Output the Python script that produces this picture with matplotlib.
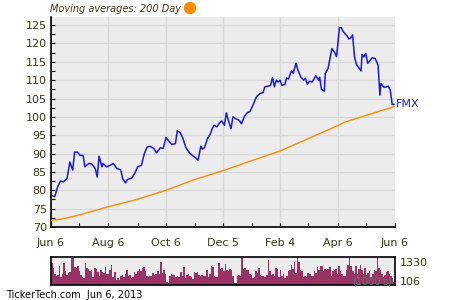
import matplotlib
matplotlib.use("Agg")
import matplotlib.pyplot as plt
from matplotlib.patches import Ellipse
import numpy as np

# price readings: days since Jun 6 2012 and close
days = [0, 4, 7, 10, 13, 17, 20, 23, 25, 28, 31, 34, 36, 40, 43, 47, 49, 51, 54, 55,
        59, 63, 66, 70, 74, 76, 79, 81, 86, 89, 92, 96, 99, 102, 105, 109, 112, 116, 119, 122,
        124, 128, 132, 134, 137, 140, 143, 147, 150, 154, 156, 159, 161, 163, 166, 169, 171, 173, 176, 179,
        181, 184, 186, 188, 191, 193, 196, 200, 202, 205, 208, 211, 215, 218, 222, 225, 227, 231, 233, 235,
        237, 239, 241, 243, 245, 248, 250, 252, 255, 257, 260, 262, 265, 268, 270, 272, 274, 277, 279, 281,
        284, 285, 287, 290, 291, 294, 298, 301, 303, 306, 308, 310, 314, 316, 318, 320, 322, 324, 327, 329,
        330, 332, 334, 336, 338, 341, 344, 347, 349, 350, 353, 355, 358, 360, 362, 364]
price = [78.6, 78.3, 80.9, 82.5, 82.3, 83.2, 87.7, 85.5, 90.4, 90.4, 89.5, 89.5, 86.4, 87.3, 87.2, 85.9, 83.6, 89.3, 86.4, 87.3,
         86.4, 86.8, 87.3, 85.9, 85.6, 83.2, 82.0, 82.9, 83.4, 84.7, 86.4, 86.8, 90.0, 91.8, 92.0, 91.4, 90.2, 91.6, 91.4, 94.4,
         93.7, 92.5, 92.7, 96.2, 95.7, 94.1, 91.7, 90.2, 89.5, 88.7, 88.2, 92.0, 91.2, 91.7, 94.1, 95.3, 96.8, 97.7, 97.3, 98.4,
         98.9, 97.7, 101.1, 99.2, 96.8, 100.0, 99.5, 99.0, 98.1, 100.0, 101.1, 101.4, 103.6, 105.5, 106.4, 106.6, 108.2, 108.4, 108.6, 110.7,
         108.2, 110.0, 109.5, 110.0, 108.6, 108.8, 110.6, 110.3, 112.5, 111.9, 114.6, 112.7, 110.9, 110.0, 110.5, 108.8, 109.7, 109.5, 110.3, 111.2,
         110.0, 110.8, 107.5, 107.0, 111.8, 113.2, 118.6, 117.5, 116.4, 124.3, 124.3, 123.2, 122.1, 121.2, 121.5, 122.3, 116.4, 114.3, 113.2, 112.5,
         117.0, 116.3, 117.3, 114.6, 115.2, 116.1, 115.9, 114.1, 105.9, 109.1, 108.1, 108.1, 108.4, 107.2, 103.4, 103.4]

ma_days = [0, 10, 29, 59, 91, 122, 151, 182, 211, 243, 275, 305, 312, 333, 362, 364]
ma200 = [71.8, 72.1, 73.2, 75.4, 77.5, 80.0, 82.8, 85.3, 87.9, 90.7, 94.3, 97.7, 98.6, 100.3, 102.6, 102.8]

tick_days = [0, 61, 122, 182, 243, 304, 365]
tick_labels = ["Jun 6", "Aug 6", "Oct 6", "Dec 5", "Feb 4", "Apr 6", "Jun 6"]
minor_days = [30, 92, 153, 213, 273, 334]

# volume in 1000's
volume = [1040, 810, 540, 410, 490, 890, 380, 540, 1040, 650, 490, 570, 600, 1280, 1280, 850, 810, 890, 650, 490,
          380, 330, 1040, 810, 760, 650, 730, 380, 810, 760, 600, 440, 700, 600, 570, 850, 540, 540, 730, 970,
          380, 600, 250, 330, 250, 440, 490, 380, 540, 700, 440, 490, 330, 380, 600, 540, 650, 760, 650, 810,
          850, 650, 440, 380, 410, 410, 570, 490, 540, 650, 540, 1120, 570, 700, 540,
          130, 106, 410, 540, 490, 490, 380, 410, 380, 600, 410, 850, 330, 490, 540, 440, 380, 290, 600, 570,
          600, 490, 440, 490, 440, 440, 700, 380, 540, 890, 850, 440, 380, 380, 1040, 760, 810, 650, 1010, 730,
          650, 760, 730, 410, 110, 110, 440, 490, 440, 1330, 760, 810, 700, 730, 540, 490, 330, 380, 650, 570,
          810, 490, 410, 410, 380, 490, 1200, 650, 490, 540, 410,
          810, 760, 380, 700, 410, 540, 330, 440, 650, 730, 970, 760, 1120, 570, 1330, 1120, 730, 650, 380, 440,
          380, 570, 540, 410, 440, 650, 570, 850, 700, 890, 920, 650, 760, 700, 760, 850, 440, 650, 730, 760,
          540, 920, 650, 540, 440, 440, 700, 970, 1330, 920, 650, 540, 890, 540, 760, 970, 700, 540, 810, 490,
          570, 650, 380, 540, 700, 650, 1330, 810, 730, 540, 380, 490, 600, 650, 540, 410, 330, 130]

text_col = "#3b3417"
bg = "#ececec"
grid_col = "#d9d9d9"

fig = plt.figure(figsize=(4.5, 3), dpi=100)
ax = fig.add_axes([51 / 450, 1 - 227 / 300, 344 / 450, 210 / 300])
ax.set_facecolor(bg)
ax.plot(ma_days, ma200, color="#ff8c00", lw=1.0, zorder=3)
ax.plot(days, price, color="#1a1ad6", lw=1.1, zorder=4)
ax.set_xlim(0, 365)
ax.set_ylim(70, 127.2)
ax.set_xticks(tick_days)
ax.set_xticklabels(tick_labels)
ax.set_xticks(minor_days, minor=True)
ax.set_yticks(np.arange(70, 126, 5))
ax.set_yticks(np.arange(72.5, 127, 5), minor=True)
ax.grid(True, which="major", color=grid_col, lw=1.0)
ax.set_axisbelow(True)
for s in ["top", "right"]:
    ax.spines[s].set_visible(False)
for s in ["left", "bottom"]:
    ax.spines[s].set_color("black")
    ax.spines[s].set_linewidth(1.2)
ax.tick_params(which="both", direction="in", length=3, width=0.8, colors="black",
               labelcolor=text_col, labelsize=8)
ax.tick_params(axis="x", pad=8)
ax.tick_params(axis="y", pad=3)

fig.text(396 / 450, 1 - 104 / 300, "FMX", color="#1a1ad6", fontsize=8, va="center", ha="left")
fig.text(50 / 450, 1 - 9 / 300, "Moving averages: 200 Day", style="italic", color=text_col,
         fontsize=7, va="center", ha="left")
fig.add_artist(Ellipse((190 / 450, 1 - 8 / 300), 11 / 450, 11 / 300, transform=fig.transFigure,
                       color="#ff8c00"))

vax = fig.add_axes([51 / 450, 1 - 285 / 300, 344 / 450, 28.5 / 300])
vax.set_facecolor(bg)
vax.bar(np.arange(len(volume)), volume, width=1.0, color="#993366", linewidth=0)
vax.set_xlim(-0.5, len(volume) - 0.5)
vax.set_ylim(0, 1360)
vax.set_xticks([])
vax.set_yticks([])
for s in vax.spines.values():
    s.set_color("black")
    s.set_linewidth(1.2)
vax.text(1.015, 0.77, "1330", transform=vax.transAxes, color=text_col, fontsize=8, va="center")
vax.text(1.015, 0.12, "106", transform=vax.transAxes, color=text_col, fontsize=8, va="center")
vax.text(0.99, 0.12, "(1000's)", transform=vax.transAxes, color="#5f7a6a", fontsize=7,
         ha="right", va="center")

fig.text(6 / 450, 1 - 295 / 300, "TickerTech.com  Jun 6, 2013", color="black", fontsize=7,
         va="center", ha="left")

fig.savefig("out.png", dpi=100)
